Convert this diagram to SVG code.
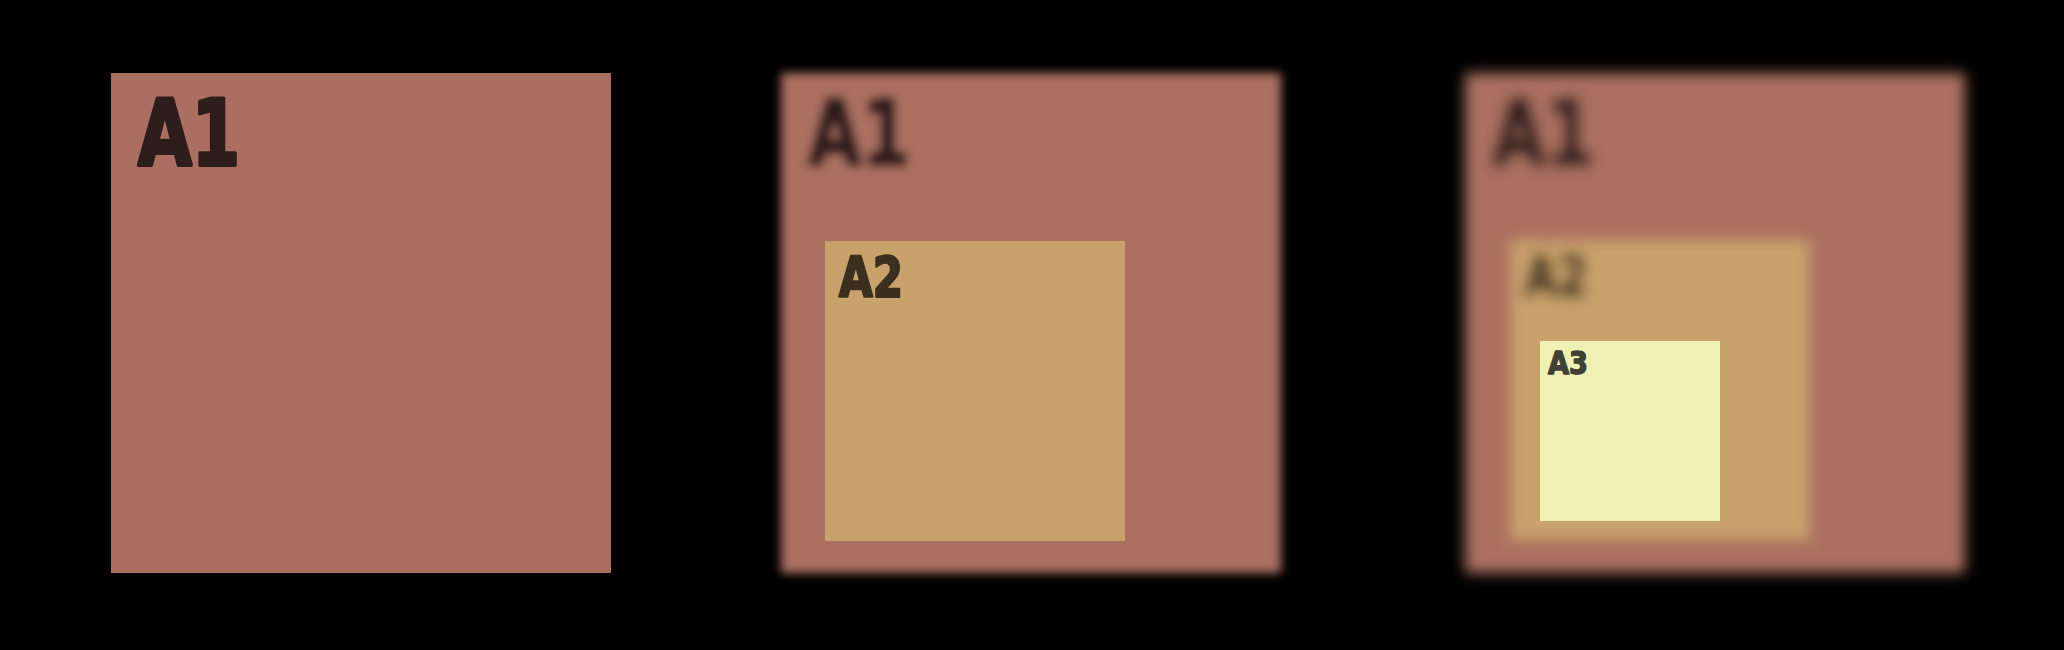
<svg xmlns="http://www.w3.org/2000/svg" width="2064" height="650" viewBox="0 0 2064 650">
  <style>
    .a1 { fill: #ab6f61; }
    .a2 { fill: #c9a16a; }
    .a3 { fill: #eef0b4; }
    .lbl { font-family: "DejaVu Sans", "Liberation Sans", sans-serif; font-weight: bold; stroke-linejoin: round; }
    .t1 { fill: #2d1d1b; stroke: #2d1d1b; stroke-width: 4px; font-size: 90px; }
    .t2 { fill: #3b2f1f; stroke: #3b2f1f; stroke-width: 2.5px; font-size: 55px; }
    .t3 { fill: #404035; stroke: #404035; stroke-width: 1.5px; font-size: 32px; }
  </style>
  <defs>
    <filter id="blur5" x="-10%" y="-10%" width="120%" height="120%">
      <feGaussianBlur stdDeviation="5"/>
    </filter>
    <filter id="blur7" x="-10%" y="-10%" width="120%" height="120%">
      <feGaussianBlur stdDeviation="7"/>
    </filter>
  </defs>
  <rect x="0" y="0" width="2064" height="650" fill="#000000"/>

  <!-- Panel 1 -->
  <g id="p1-a1">
    <rect class="a1" x="111" y="73" width="500" height="500"/>
    <text class="lbl t1" x="138" y="165" textLength="102" lengthAdjust="spacingAndGlyphs">A1</text>
  </g>

  <!-- Panel 2 -->
  <g id="p2-a1" filter="url(#blur5)">
    <rect class="a1" x="781" y="73" width="500" height="500"/>
    <text class="lbl t1" x="808" y="165" textLength="102" lengthAdjust="spacingAndGlyphs">A1</text>
  </g>
  <g id="p2-a2">
    <rect class="a2" x="825" y="241" width="300" height="300"/>
    <text class="lbl t2" x="839" y="296" textLength="64" lengthAdjust="spacingAndGlyphs">A2</text>
  </g>

  <!-- Panel 3 -->
  <g id="p3-a1" filter="url(#blur7)">
    <rect class="a1" x="1465" y="73" width="500" height="500"/>
    <text class="lbl t1" x="1492" y="165" textLength="102" lengthAdjust="spacingAndGlyphs">A1</text>
  </g>
  <g id="p3-a2" filter="url(#blur7)">
    <rect class="a2" x="1510" y="240" width="300" height="300"/>
    <text class="lbl t2" x="1524" y="295" textLength="64" lengthAdjust="spacingAndGlyphs">A2</text>
  </g>
  <g id="p3-a3">
    <rect class="a3" x="1540" y="341" width="180" height="180"/>
    <text class="lbl t3" x="1548" y="374" textLength="40" lengthAdjust="spacingAndGlyphs">A3</text>
  </g>

  <g id="connectors"/>
</svg>
